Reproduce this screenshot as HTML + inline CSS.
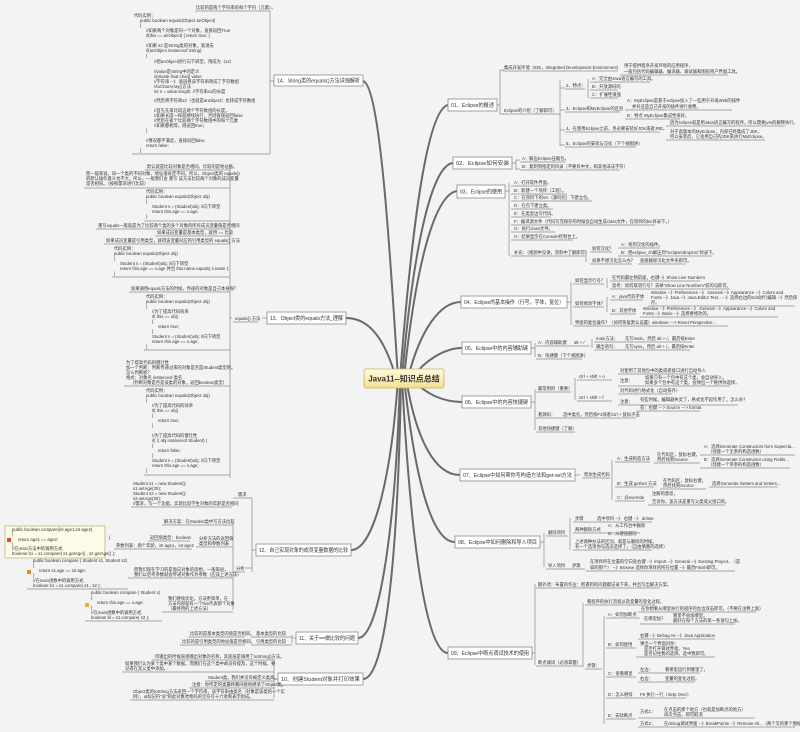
<!DOCTYPE html>
<html><head><meta charset="utf-8"><style>
html,body{margin:0;padding:0;background:#f3f3f3;}
svg{display:block}
.l{font-family:"Liberation Sans","Noto Sans CJK SC",sans-serif;font-size:4.3px;fill:#333}
.m{font-family:"Liberation Sans","Noto Sans CJK SC",sans-serif;font-size:5.4px;fill:#333}
.u{stroke:#8a8a8a;stroke-width:0.7;fill:none}
.b{stroke:#8a8a8a;stroke-width:0.7;fill:none}
.c{stroke:#6a6a6a;stroke-width:2;fill:none}
.n{fill:#fff;stroke:#8a8a8a;stroke-width:0.8}
</style></head><body>
<svg width="800" height="732" viewBox="0 0 800 732" xmlns="http://www.w3.org/2000/svg">
<defs><linearGradient id="g" x1="0" y1="0" x2="0" y2="1"><stop offset="0" stop-color="#fffbe0"/><stop offset="1" stop-color="#f3df8e"/></linearGradient></defs>
<g class="c">
<path d="M400,378 C410,250 425,110 448,105"/>
<path d="M402,378 C412,260 430,165 453,163"/>
<path d="M404,378 C414,280 432,195 457,191"/>
<path d="M408,378 C420,330 440,302 461,302"/>
<path d="M412,378 C425,360 445,348 462,348"/>
<path d="M412,378 C425,395 445,402 462,402"/>
<path d="M406,378 C416,440 435,475 460,475"/>
<path d="M404,378 C414,470 430,542 455,542"/>
<path d="M402,378 C410,530 425,653 448,653"/>
<path d="M398,378 C390,250 380,85 363,81"/>
<path d="M396,378 C385,340 370,318 346,318"/>
<path d="M398,378 C392,470 375,550 351,550"/>
<path d="M400,378 C396,520 380,638 358,638"/>
<path d="M401,378 C398,560 385,679 363,679"/>
</g>
<rect x="364" y="369" width="80" height="19" rx="2" fill="url(#g)" stroke="#c9b465" stroke-width="0.8"/>
<text x="404" y="381.5" text-anchor="middle" font-family="Liberation Sans,Noto Sans CJK SC,sans-serif" font-size="8" font-weight="bold" fill="#333">Java11--知识点总结</text>

<rect class="n" x="448" y="99" width="49" height="12"/><text class="m" x="451" y="107" textLength="43" lengthAdjust="spacingAndGlyphs">01、Eclipse的概述</text>
<rect class="n" x="453" y="157" width="59" height="12"/><text class="m" x="456" y="165" textLength="53" lengthAdjust="spacingAndGlyphs">02、Eclipse如何安装</text>
<rect class="n" x="457" y="185" width="48" height="13"/><text class="m" x="460" y="193.5" textLength="42" lengthAdjust="spacingAndGlyphs">03、Eclipse的使用</text>
<rect class="n" x="461" y="296" width="106" height="12"/><text class="m" x="464" y="304" textLength="100" lengthAdjust="spacingAndGlyphs">04、Eclipse的基本操作（行号，字体，复位）</text>
<rect class="n" x="462" y="342" width="69" height="12"/><text class="m" x="465" y="350" textLength="63" lengthAdjust="spacingAndGlyphs">05、Eclipse中的内容辅助键</text>
<rect class="n" x="462" y="396" width="69" height="12"/><text class="m" x="465" y="404" textLength="63" lengthAdjust="spacingAndGlyphs">06、Eclipse中的内容快捷键</text>
<rect class="n" x="460" y="469" width="115" height="12"/><text class="m" x="463" y="477" textLength="109" lengthAdjust="spacingAndGlyphs">07、Eclipse中如何帮你写构造方法和get-set方法</text>
<rect class="n" x="455" y="536" width="85" height="12"/><text class="m" x="458" y="544" textLength="79" lengthAdjust="spacingAndGlyphs">08、Eclipse中如何删除和导入项目</text>
<rect class="n" x="448" y="647" width="84" height="12"/><text class="m" x="451" y="655" textLength="78" lengthAdjust="spacingAndGlyphs">09、Eclipse中断点调试技术的使用</text>
<rect class="n" x="274" y="75" width="89" height="11"/><text class="m" x="277" y="82.5" textLength="83" lengthAdjust="spacingAndGlyphs">14、String类的equals()方法详细解析</text>
<rect class="n" x="267" y="312" width="79" height="12"/><text class="m" x="270" y="320" textLength="73" lengthAdjust="spacingAndGlyphs">13、Object类的equals方法_理解</text>
<rect class="n" x="256" y="544" width="95" height="12"/><text class="m" x="259" y="552" textLength="89" lengthAdjust="spacingAndGlyphs">12、自己实现对象的成员变量数据的比较</text>
<rect class="n" x="296" y="632" width="62" height="12"/><text class="m" x="299" y="640" textLength="56" lengthAdjust="spacingAndGlyphs">11、关于==做比较的问题</text>
<rect class="n" x="278" y="673" width="85" height="12"/><text class="m" x="281" y="681" textLength="79" lengthAdjust="spacingAndGlyphs">10、创建Student对象并打印效果</text>

<!-- 01 -->
<path class="b" d="M497,105 H500 M500,70 V114 M500,70 H504 M500,114 H504"/>
<text class="l" x="504" y="69">集成开发环境（IDE，Integrated Development Environment）</text><path class="u" d="M503,71 H618"/>
<text class="l" x="624" y="67">用于提供程序开发环境的应用程序，</text><text class="l" x="624" y="73">一般包括代码编辑器、编译器、调试器和图形用户界面工具。</text><path class="u" d="M620,75 H728"/>
<text class="l" x="504" y="112">Eclipse的介绍（了解即可）</text><path class="u" d="M503,114 H555"/>
<path class="b" d="M560,80 V146 M560,88 H565 M560,110 H565 M560,130 H565 M560,145 H565 M555,114 H560"/>
<text class="l" x="566" y="87">2、特点：</text><path class="u" d="M565,89 H585"/>
<path class="b" d="M588,79 V98"/>
<text class="l" x="592" y="80">A：完全由Java语言编写的工具。</text><path class="u" d="M590,82 H650"/>
<text class="l" x="592" y="88">B：开放源码的</text><path class="u" d="M590,90 H618"/>
<text class="l" x="592" y="96">C：扩展性很强</text><path class="u" d="M590,98 H618"/>
<text class="l" x="566" y="110">3、Eclipse和MyEclipse的区别</text><path class="u" d="M565,112 H620"/>
<text class="l" x="627" y="102">A：MyEclipse是基于eclipse加入了一些用于开发Web的插件</text><text class="l" x="632" y="108">并对这些自己开发的插件进行收费。</text><path class="u" d="M625,110 H732"/>
<text class="l" x="627" y="117">B：特点 MyEclipse集成性很好。</text><path class="u" d="M625,119 H680"/>
<text class="l" x="566" y="130">4、在使用Eclipse之前，务必要安装好JDK或者JRE。</text><path class="u" d="M565,132 H660"/>
<text class="l" x="670" y="124">因为eclipse就是用Java语言编写的程序，所以需要jvm的解释执行。</text><path class="u" d="M666,126 H785"/>
<text class="l" x="670" y="133">对于高版本的MyEclipse，内部已经集成了JDK，</text><text class="l" x="670" y="138">所以安装后，它会用自己的JDK来执行MyEclipse。</text><path class="u" d="M666,140 H765"/>
<text class="l" x="566" y="145">5、Eclipse的安装与汉化（下个视图讲）</text><path class="u" d="M565,147 H636"/>
<!-- 02 -->
<path class="b" d="M512,163 H516 M516,160 V170 M516,160 H520 M516,169 H520"/>
<text class="l" x="522" y="160">A：解压Eclipse压缩包。</text><path class="u" d="M520,162 H565"/>
<text class="l" x="522" y="168">B：复制到指定的目录（不要有中文，和其他非法字符）</text><path class="u" d="M520,170 H620"/>
<!-- 03 -->
<path class="b" d="M505,191 H509 M509,183 V256"/>
<text class="l" x="514" y="184">A：打开软件界面。</text><path class="u" d="M511,186 H547"/>
<text class="l" x="514" y="192">B：新建一个项目（工程）。</text><path class="u" d="M511,194 H567"/>
<text class="l" x="514" y="199">C：在项目下的src（源码包）下建立包。</text><path class="u" d="M511,201 H592"/>
<text class="l" x="514" y="207">D：在包下建立类。</text><path class="u" d="M511,209 H553"/>
<text class="l" x="514" y="215">E：在类里边写代码。</text><path class="u" d="M511,217 H551"/>
<text class="l" x="514" y="223">F：编译源文件（代码写完保存的时候会自动生成class文件，在项目的bin目录下。）</text><path class="u" d="M511,225 H655"/>
<text class="l" x="514" y="230">G：执行class文件。</text><path class="u" d="M511,232 H555"/>
<text class="l" x="514" y="238">H：结果显示在Console控制台上。</text><path class="u" d="M511,240 H573"/>
<text class="l" x="514" y="254">补充：（视频中没讲，资料中了解即可）</text><path class="u" d="M511,256 H585"/>
<path class="b" d="M586,250 V262"/>
<text class="l" x="592" y="250">如何汉化？</text><path class="u" d="M590,252 H612"/>
<text class="l" x="621" y="246">A：找到汉化的插件。</text><path class="u" d="M618,248 H660"/>
<text class="l" x="621" y="254">B：把eclipse_zh解压到“\eclipse\dropins\”目录下。</text><path class="u" d="M618,256 H712"/>
<text class="l" x="592" y="262">如果不想汉化怎么办？</text><path class="u" d="M590,264 H632"/>
<text class="l" x="640" y="262">直接删除汉化文件夹即可。</text><path class="u" d="M638,264 H686"/>
<!-- 04 -->
<path class="b" d="M567,302 H571 M571,282 V325"/>
<text class="l" x="575" y="282">如何显示行号？</text><path class="u" d="M573,284 H604"/>
<path class="b" d="M607,278 V288"/>
<text class="l" x="612" y="279">在代码最左侧前面，右键--》Show Line Numbers</text><path class="u" d="M610,281 H700"/>
<text class="l" x="612" y="287">思考：如何取消行号？</text><text class="l" x="655" y="287">去掉“Show Line Numbers”前的勾即可。</text><path class="u" d="M610,289 H730"/>
<text class="l" x="575" y="305">如何修改字体？</text><path class="u" d="M573,307 H604"/>
<path class="b" d="M607,297 V312"/>
<text class="l" x="612" y="298">A：java代码字体</text><path class="u" d="M610,300 H643"/>
<text class="l" x="651" y="294">Window --》Preferences --》 General --》Appearance --》Colors and</text><text class="l" x="651" y="299">Fonts --》Java --》Java Editor Text ...--》选择右边的Edit进行编辑 --》然后保</text><text class="l" x="651" y="304">存。</text><path class="u" d="M648,306 H795"/>
<text class="l" x="612" y="312">B：其他字体</text><path class="u" d="M610,314 H636"/>
<text class="l" x="643" y="310">Window --》Preferences --》 General --》Appearance --》Colors and</text><text class="l" x="643" y="315">Fonts --》Basic --》选择要修改的。</text><path class="u" d="M640,317 H778"/>
<text class="l" x="575" y="324">界面的复位操作？（如何恢复默认设置）</text><text class="l" x="652" y="324">windows ---&gt; Reset Perspective...</text><path class="u" d="M573,326 H728"/>
<!-- 05 -->
<path class="b" d="M531,348 H535 M535,343 V357"/>
<text class="l" x="538" y="344">A：内容辅助键</text><text class="l" x="574" y="344">alt + /</text><path class="u" d="M536,346 H590"/>
<path class="b" d="M592,339 V348"/>
<text class="l" x="596" y="340">main方法：</text><text class="l" x="625" y="340">先写main，然后 alt + /，最后按Enter</text><path class="u" d="M594,342 H692"/>
<text class="l" x="596" y="348">输出语句：</text><text class="l" x="625" y="348">先写syso，然后 alt + /，最后按Enter</text><path class="u" d="M594,350 H690"/>
<text class="l" x="538" y="357">B：快捷键（下个视图讲）</text><path class="u" d="M536,359 H582"/>
<!-- 06 -->
<path class="b" d="M531,402 H535 M535,389 V430"/>
<text class="l" x="538" y="390">最常用的（重要）</text><path class="u" d="M536,392 H571"/>
<path class="b" d="M575,378 V400"/>
<text class="l" x="579" y="378">ctrl + shift + o</text><path class="u" d="M577,380 H612"/>
<text class="l" x="620" y="372">对使用了其他包中的类或者接口进行自动导入</text><path class="u" d="M618,374 H700"/>
<text class="l" x="620" y="382">注意：</text><text class="l" x="645" y="379">如果只有一个包中有这个类，会自动导入。</text><text class="l" x="645" y="384">如果多个包中有这个类，会弹出一个框供你选择。</text><path class="u" d="M618,386 H730"/>
<text class="l" x="579" y="399">ctrl + shift + f</text><path class="u" d="M577,401 H612"/>
<text class="l" x="620" y="392">对代码进行格式化（自动排齐）</text><path class="u" d="M618,394 H672"/>
<text class="l" x="620" y="403">注意：</text><text class="l" x="640" y="401">有些时候，编辑器失灵了，格式化不起作用了，怎么办？</text><path class="u" d="M618,405 H738"/>
<text class="l" x="640" y="409">答：右键 ---&gt; Source ---&gt; format</text><path class="u" d="M636,411 H700"/>
<text class="l" x="538" y="416">看源码：</text><text class="l" x="563" y="416">选中类名，然后按F3或者Ctrl + 鼠标点击</text><path class="u" d="M536,418 H636"/>
<text class="l" x="538" y="430">其他快捷键（了解）</text><path class="u" d="M536,432 H575"/>
<!-- 07 -->
<path class="b" d="M575,475 H580"/>
<text class="l" x="584" y="476">帮你生成代码</text><path class="u" d="M582,478 H610"/>
<path class="b" d="M612,460 V500"/>
<text class="l" x="617" y="460">A：生成构造方法</text><path class="u" d="M615,462 H650"/>
<text class="l" x="657" y="456">在代码区，鼠标右键，</text><text class="l" x="657" y="461">然后找到Source</text><path class="u" d="M654,463 H700"/>
<text class="l" x="704" y="448">A：选择Generate Constructors form Supercla...</text><text class="l" x="708" y="453">（创建一个无参的构造函数）</text><path class="u" d="M700,455 H795"/>
<text class="l" x="704" y="461">B：选择Generate Constructor using Fields...</text><text class="l" x="708" y="466">（创建一个带参的构造函数）</text><path class="u" d="M700,468 H790"/>
<text class="l" x="617" y="485">B：生成 get/set 方法</text><path class="u" d="M615,487 H654"/>
<text class="l" x="663" y="482">在代码区，鼠标右键，</text><text class="l" x="663" y="487">然后找到Source</text><path class="u" d="M660,489 H706"/>
<text class="l" x="712" y="485">选择Generate Getters and Setters...</text><path class="u" d="M709,487 H778"/>
<text class="l" x="617" y="499">C：@override</text><path class="u" d="M615,501 H645"/>
<text class="l" x="652" y="495">注解的意思，</text><text class="l" x="652" y="503">告诉你，该方法是重写父类或父接口的。</text><path class="u" d="M648,505 H725"/>
<!-- 08 -->
<path class="b" d="M540,542 H544 M544,533 V567"/>
<text class="l" x="548" y="534">删除项目</text><path class="u" d="M546,536 H568"/>
<path class="b" d="M570,518 V550"/>
<text class="l" x="575" y="520">步骤</text><text class="l" x="597" y="520">选中项目 --》 右键 --》 delete</text><path class="u" d="M573,522 H652"/>
<text class="l" x="575" y="531">两种删除方式</text><text class="l" x="608" y="527">A：从工作台中删除</text><text class="l" x="608" y="535">B：从硬盘删除</text><path class="u" d="M573,533 H640"/>
<text class="l" x="575" y="543">上述两种办法的区别，就是与删除的时候，</text><text class="l" x="575" y="548">有一个选项你勾选没选择了。（自由慎重的选择）</text><path class="u" d="M573,550 H652"/>
<text class="l" x="548" y="567">导入项目</text><text class="l" x="572" y="567">步骤</text><path class="u" d="M546,569 H585"/>
<text class="l" x="590" y="563">在项目所在位置的空白处右键 --》Import --》General --》Existing Project...（是</text><text class="l" x="590" y="569">如的那个） --》Browse 选择你项目的所在位置 --》最后Finish即可。</text><path class="u" d="M586,571 H735"/>
<!-- 09 -->
<path class="b" d="M532,653 H535 M535,584 V665"/>
<text class="l" x="538" y="586">额外话：布置的作业：把遇到的问题都记录下来，并且写出解决方案。</text><path class="u" d="M536,588 H660"/>
<text class="l" x="538" y="664">断点调试（必须掌握）</text><path class="u" d="M536,666 H583"/>
<path class="b" d="M583,603 V667"/>
<text class="l" x="587" y="603">看程序的执行流程以及变量的变化过程。</text><path class="u" d="M585,605 H655"/>
<text class="l" x="587" y="667">步骤：</text><path class="u" d="M585,669 H602"/>
<path class="b" d="M604,616 V724"/>
<text class="l" x="608" y="616">A：如何加断点</text><path class="u" d="M606,618 H640"/>
<text class="l" x="641" y="610">在你想看从哪里执行的程序的左边双击即可。（不要在注释上面）</text><path class="u" d="M638,612 H756"/>
<text class="l" x="644" y="620">在哪里加？</text><text class="l" x="673" y="617">哪里不会加哪里。</text><text class="l" x="673" y="622">最好在每个方法的第一条语句上加。</text><path class="u" d="M640,624 H735"/>
<text class="l" x="608" y="646">B：如何使用</text><path class="u" d="M606,648 H636"/>
<text class="l" x="640" y="637">右键 --》Debug As --》Java Application</text><path class="u" d="M638,639 H715"/>
<text class="l" x="640" y="645">弹出一个界面问你：</text><text class="l" x="644" y="650">是否打开调试界面。Yes</text><text class="l" x="644" y="655">是否记住我的选择。选中我即可。</text><path class="u" d="M636,657 H715"/>
<text class="l" x="608" y="675">C：查看哪里</text><path class="u" d="M606,677 H636"/>
<text class="l" x="640" y="671">左边：</text><text class="l" x="665" y="671">看哪里运行到哪里了。</text><path class="u" d="M638,673 H700"/>
<text class="l" x="640" y="680">右边：</text><text class="l" x="665" y="680">变量的变化过程。</text><path class="u" d="M638,682 H695"/>
<text class="l" x="608" y="696">D：怎么继续</text><text class="l" x="640" y="696">F6 执行一行（Setp Over）</text><path class="u" d="M606,698 H686"/>
<text class="l" x="608" y="717">E：去除断点</text><path class="u" d="M606,719 H636"/>
<text class="l" x="640" y="713">方式1：</text><text class="l" x="664" y="711">在点击的那个地方（也就是加断点的地方）</text><text class="l" x="664" y="716">再次点击，即可取消</text><path class="u" d="M638,718 H755"/>
<text class="l" x="640" y="725">方式2：</text><text class="l" x="664" y="725">在debug调试界面 --》BreakPoints --》Remove All...（两个叉的那个图标）</text><path class="u" d="M638,727 H795"/>

<!-- 14 -->
<path class="b" d="M274,81 H270 M270,11 V154 M270,11 H195 M270,154 H132"/>
<text class="l" x="196" y="9">比较的是两个字符串的每个字符（元素）。</text>
<text class="l" x="134" y="17">代码实例：</text>
<text class="l" x="140" y="22">public boolean equals(Object anObject)</text>
<text class="l" x="140" y="27">{</text>
<text class="l" x="146" y="32">//如果两个对象是同一个对象，直接返回True</text>
<text class="l" x="146" y="37">if(this == anObject) { return true; }</text>
<text class="l" x="146" y="47">//如果 s2 是String类的对象，就进去</text>
<text class="l" x="146" y="52">if(anObject instanceof String)</text>
<text class="l" x="146" y="57">{</text>
<text class="l" x="154" y="63">//把anObject进行向下转型，用成为（s2）</text>
<text class="l" x="154" y="73">//value是String中的定义</text>
<text class="l" x="154" y="78">//private final char[] value</text>
<text class="l" x="154" y="83">//字符串 --》 底层将该字符串转成了字符数组</text>
<text class="l" x="154" y="88">//toCharArray()方法</text>
<text class="l" x="154" y="93">int n = value.length;   //字符串s1的长度</text>
<text class="l" x="154" y="102">//然后将字符串s2（也就是anObject）也转成字符数组</text>
<text class="l" x="154" y="112">//首先先来比较这两个字符数组的长度，</text>
<text class="l" x="154" y="117">//如果长度一样就继续执行，否则直接返回false</text>
<text class="l" x="154" y="122">//然后在挨个比较两个字符数组中的每个元素</text>
<text class="l" x="154" y="127">//如果都相等，则返回true；</text>
<text class="l" x="146" y="132">}</text>
<text class="l" x="146" y="142">//情况都不满足，直接返回false</text>
<text class="l" x="146" y="147">return  false;</text>
<text class="l" x="140" y="152">}</text>
<!-- 13 -->
<path class="b" d="M267,318 H262 M230,318 H232"/>
<text class="l" x="235" y="320">equals() 方法</text><path class="u" d="M233,322 H258"/>
<path class="b" d="M230,165 V478"/>
<text class="l" x="147" y="168">默认就是比较对象是否相同，比较的是地址值。</text><path class="u" d="M145,170 H230"/>
<text class="l" x="86" y="175">而一般来说，同一个类的不同对象，地址值肯定不同，所以，Object类的 equals()</text><text class="l" x="86" y="180">的默认操作意义也不大。所以，一般我们会 重写 该方法比较两个对象的成员变量</text><text class="l" x="86" y="185">是否相同。（按照需求进行比较）</text><path class="u" d="M84,188 H230"/>
<text class="l" x="146" y="193">代码实例：</text><text class="l" x="146" y="198">public boolean equals(Object obj)</text><text class="l" x="146" y="203">{</text><text class="l" x="152" y="208">Student s = (Student)obj;   //向下转型</text><text class="l" x="152" y="213">return this.age == s.age;</text><text class="l" x="146" y="218">}</text><path class="u" d="M144,221 H230"/>
<text class="l" x="98" y="227">重写equals一般就是为了比较两个类的多个对象的所有成员变量值是否相同</text><path class="u" d="M96,229 H230"/>
<text class="l" x="157" y="234">如果成员变量是基本类型，就用 == 比较</text><path class="u" d="M155,236 H230"/>
<text class="l" x="106" y="242">如果成员变量是引用类型，就得该变量对应的引用类型的 equals() 方法</text><path class="u" d="M104,244 H230"/>
<text class="l" x="114" y="250">代码实例：</text><text class="l" x="114" y="255">public boolean equals(Object obj)</text><text class="l" x="114" y="260">{</text><text class="l" x="120" y="265">Student s = (Student)obj;   //向下转型</text><text class="l" x="120" y="270">return this.age == s.age 并且 this.name.equals( s.name );</text><text class="l" x="114" y="275">}</text><path class="u" d="M112,277 H230"/>
<text class="l" x="131" y="290">如果调用equals方法的时候，传递的对象是自己本身呢？</text><path class="u" d="M129,292 H230"/>
<text class="l" x="146" y="298">代码实例：</text><text class="l" x="146" y="303">public boolean equals(Object obj)</text><text class="l" x="146" y="308">{</text><text class="l" x="152" y="313">//为了提高代码效率</text><text class="l" x="152" y="318">if( this == obj)</text><text class="l" x="152" y="323">{</text><text class="l" x="158" y="328">return true;</text><text class="l" x="152" y="333">}</text><text class="l" x="152" y="338">Student s = (Student)obj;  //向下转型</text><text class="l" x="152" y="343">return this.age == s.age;</text><text class="l" x="146" y="348">}</text><path class="u" d="M144,350 H230"/>
<text class="l" x="126" y="364">为了提高代码的健壮性</text><text class="l" x="126" y="369">加一个判断：判断传递过来的对象是否是Student类型的。</text><text class="l" x="126" y="374">怎么判断呢？</text><text class="l" x="126" y="379">格式：对象名 instanceof 类名</text><text class="l" x="130" y="384">（判断对象是否是该类的对象，返回boolean类型）</text><path class="u" d="M124,386 H230"/>
<text class="l" x="146" y="392">代码实例：</text><text class="l" x="146" y="397">public boolean equals(Object obj)</text><text class="l" x="146" y="402">{</text><text class="l" x="152" y="407">//为了提高代码的效率</text><text class="l" x="152" y="412">if( this == obj)</text><text class="l" x="152" y="417">{</text><text class="l" x="158" y="422">return true;</text><text class="l" x="152" y="427">}</text><text class="l" x="152" y="437">//为了提高代码的健壮性</text><text class="l" x="152" y="442">if( !( obj instanceof Student) )</text><text class="l" x="152" y="447">{</text><text class="l" x="158" y="452">return false;</text><text class="l" x="152" y="457">}</text><text class="l" x="152" y="462">Student s = (Student)obj;  //向下转型</text><text class="l" x="152" y="467">return this.age == s.age;</text><text class="l" x="146" y="472">}</text><path class="u" d="M144,475 H230"/>
<!-- 12 -->
<path class="b" d="M256,550 H252 M252,498 V572 M245,498 H252 M245,568 H252"/>
<text class="l" x="133" y="485">Student s1 =  new Student();</text><text class="l" x="133" y="490">s1.setAge(20);</text><text class="l" x="133" y="495">Student s2 = new Student();</text><text class="l" x="133" y="500">s2.setAge(20);</text><text class="l" x="133" y="505">//需求，写一个功能，实现比较学生对象的年龄是否相同</text><path class="u" d="M131,507 H232"/>
<text class="l" x="238" y="496">需求</text><path class="u" d="M233,498 H245"/>
<text class="l" x="236" y="570">分析</text><path class="u" d="M233,572 H245"/>
<path class="b" d="M233,522 V610"/>
<text class="l" x="164" y="523">解决方案：在Student类中写方法比较</text><path class="u" d="M162,525 H233"/>
<text class="l" x="150" y="539">返回值类型：boolean</text><path class="u" d="M148,541 H190"/>
<text class="l" x="116" y="547">参数列表：两个年龄，int age1，int age2</text><path class="u" d="M114,549 H192"/>
<text class="l" x="199" y="540">分析方法的返回值</text><text class="l" x="199" y="545">类型和参数列表</text><path class="u" d="M196,547 H233"/>
<text class="l" x="109" y="539">{</text>
<rect x="5" y="526" width="100" height="32" fill="#fbfbe6" stroke="#b9b98a" stroke-width="0.8"/>
<text class="l" x="12" y="531" fill="#666">public boolean compare(int age1,int age2)</text><text class="l" x="12" y="535">{</text><text class="l" x="18" y="541">return age1 == age2;</text><text class="l" x="12" y="546">}</text><text class="l" x="12" y="550">//在main方法中的调用方式</text><text class="l" x="12" y="555">boolean b1 = s1.compare( s1.getAge() , s2.getAge() );</text>
<rect x="7" y="538" width="4" height="4" fill="#e34a2a"/>
<text class="l" x="33" y="562">public boolean compare ( Student s1, Student s2)</text><text class="l" x="33" y="567">{</text><text class="l" x="39" y="572">return s1.age == s2.age;</text><text class="l" x="33" y="577">}</text><text class="l" x="33" y="582">//在main函数中的调用方式</text><text class="l" x="33" y="587">boolean b1 = s1.compare( s1 , s2 );</text><path class="u" d="M27,589 H128"/>
<rect x="27" y="570" width="4" height="4" fill="#e88a2a"/>
<text class="l" x="134" y="571">而我们现在学习的是面向对象的思想，一般来说，</text><text class="l" x="134" y="576">我们以后考参数就会传递对象作为参数（应该上述方法）</text><path class="u" d="M128,578 H233"/>
<text class="l" x="91" y="594">public boolean compare ( Student s)</text><text class="l" x="91" y="599">{</text><text class="l" x="97" y="604">return this.age == s.age;</text><text class="l" x="91" y="609">}</text><text class="l" x="91" y="614">//在main函数中的调用方式</text><text class="l" x="91" y="619">boolean bl = s1.compare( s2 );</text><path class="u" d="M85,621 H162"/>
<rect x="85" y="603" width="4" height="4" fill="#e8b02a"/>
<text class="l" x="168" y="600">我们继续优化，方法更简单，在</text><text class="l" x="168" y="605">方法内部就有一个this代表那个对象</text><text class="l" x="168" y="610">（最终用的上述方法）</text><path class="u" d="M162,612 H233"/>
<!-- 11 -->
<path class="b" d="M296,638 H292 M292,635 V643"/>
<text class="l" x="190" y="635">比较的是基本类型的值是否相同。</text><path class="u" d="M188,637 H245"/>
<text class="l" x="182" y="643">比较的是引用类型的地址值是否相同。</text><path class="u" d="M180,645 H245"/>
<text class="l" x="256" y="635">基本类型的比较</text><path class="u" d="M251,637 H292"/>
<text class="l" x="256" y="643">引用类型的比较</text><path class="u" d="M251,645 H292"/>
<!-- 10 -->
<path class="b" d="M278,679 H274 M274,659 V698"/>
<text class="l" x="155" y="658">何输出的时候直接输出对象的名称，其底层是调用了toString()方法。</text><path class="u" d="M152,660 H274"/>
<text class="l" x="125" y="665">如果我们认为某个类中某个数据，而我们在这个类中却没有提及，这个时候，要</text><text class="l" x="125" y="670">记得在其父类中添加。</text><path class="u" d="M122,672 H274"/>
<text class="l" x="208" y="679">Student类，我们并没有被定义类商。</text><path class="u" d="M205,681 H274"/>
<text class="l" x="192" y="686">注意：你所定的类最终都间接地继承了Object类。</text><path class="u" d="M189,688 H274"/>
<text class="l" x="133" y="693">Object类的toString方法返回一个字符串，该字符串由类名（对象是该类的一个实</text><text class="l" x="133" y="698">例），at标记符"@"和此对象哈希码的无符号十六进制表示组成。</text><path class="u" d="M130,700 H274"/>
</svg>
</body></html>
